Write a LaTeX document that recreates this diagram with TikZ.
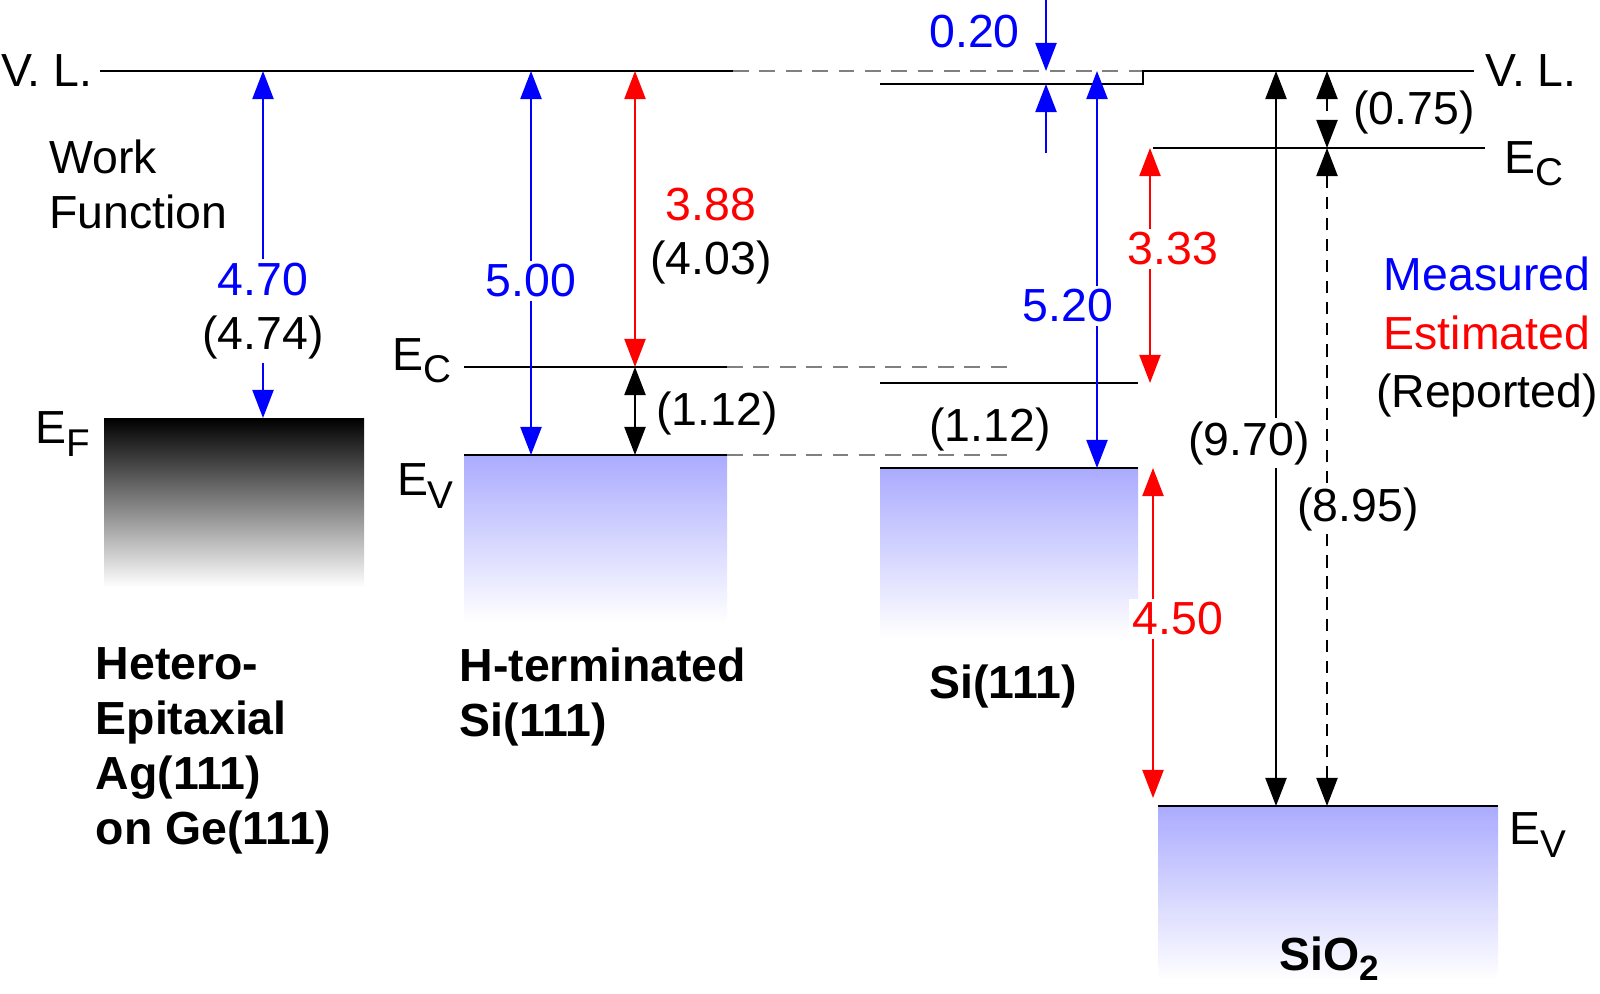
\documentclass[tikz,border=0pt]{standalone}
\usepackage{fontspec}
\setmainfont{Liberation Sans}
\usetikzlibrary{arrows.meta,positioning}

\newcommand{\lev}[2]{#1\raisebox{-0.5ex}{\fontsize{11}{11}\selectfont #2}}

\begin{document}
\begin{tikzpicture}[x=0.01cm,y=-0.01cm,>={Triangle[length=2.8mm,width=2.1mm]},
 txt/.style={font=\fontsize{13.2}{15.4}\selectfont,inner sep=1pt},
 num/.style={txt,fill=white,align=center},
 title/.style={font=\fontsize{13.2}{15.6}\selectfont\bfseries,align=left,inner sep=0pt},
 band/.style={line width=0.8pt},
 guide/.style={gray,line width=0.5pt,dash pattern=on 4.5pt off 3pt},
 gap/.style={<->,line width=0.6pt},
 rep/.style={gap,dash pattern=on 3.5pt off 2.5pt},
 valence/.style={top color=blue!33,bottom color=white},
 metal/.style={top color=black,bottom color=white}]
\useasboundingbox (0,0) rectangle (1600,994);

\coordinate (vlL) at (100,71);
\coordinate (vlM) at (733,71);
\coordinate (vlS) at (1143,71);
\coordinate (vlR) at (1474,71);
\coordinate (siVLa) at (880,84);
\coordinate (siVLb) at (1143,84);
\coordinate (agT) at (104,418);
\coordinate (hcL) at (464,367);
\coordinate (hcR) at (727,367);
\coordinate (hcD) at (1015,367);
\coordinate (hvL) at (464,455);
\coordinate (hvR) at (727,455);
\coordinate (hvD) at (1015,455);
\coordinate (scL) at (880,383);
\coordinate (scR) at (1138,383);
\coordinate (svL) at (880,468);
\coordinate (svR) at (1138,468);
\coordinate (ocL) at (1153,148);
\coordinate (ocR) at (1485,148);
\coordinate (ovL) at (1158,806);
\coordinate (ovR) at (1498,806);

\shade[metal] (agT) rectangle (364,587);
\shade[valence] (hvL) rectangle (727,622);
\shade[valence] (svL) rectangle (1138,638);
\shade[valence] (ovL) rectangle (1498,980);

\draw[band] (vlL) -- (vlM);
\draw[guide] (vlM) -- (vlS);
\draw[band] (siVLa) -- (siVLb) -- (vlS) -- (vlR);
\draw[band] (hcL) -- (hcR);
\draw[guide] (hcR) -- (hcD);
\draw[band] (hvL) -- (hvR);
\draw[guide] (hvR) -- (hvD);
\draw[band] (scL) -- (scR);
\draw[band] (svL) -- (svR);
\draw[band] (ocL) -- (ocR);
\draw[band] (ovL) -- (ovR);

\node[txt,left=1pt of vlL] (vlLtxt) {V. L.};
\node[txt,right=2pt of vlR] (vlRtxt) {V. L.};
\node[txt,align=left,anchor=north west] (wf) at (45,136) {Work\\Function};
\node[txt,anchor=east] (ef) at (94,434) {\lev{E}{F}};
\node[txt,anchor=east] (hec) at (456,361) {\lev{E}{C}};
\node[txt,anchor=east] (hev) at (458,486) {\lev{E}{V}};
\node[txt,anchor=west] (oec) at (1500,164) {\lev{E}{C}};
\node[txt,anchor=west] (oev) at (1505,835) {\lev{E}{V}};

\coordinate (a470t) at (263,71);
\coordinate (a470b) at (263,418);
\coordinate (a500t) at (531,71);
\coordinate (a500b) at (531,455);
\coordinate (a388t) at (635,71);
\coordinate (a388b) at (635,367);
\coordinate (a112t) at (635,367);
\coordinate (a112b) at (635,455);
\coordinate (a020a) at (1046,0);
\coordinate (a020b) at (1046,71);
\coordinate (a020c) at (1046,153);
\coordinate (a020d) at (1046,84);
\coordinate (a520t) at (1097,71);
\coordinate (a520b) at (1097,468);
\coordinate (a333t) at (1150,148);
\coordinate (a333b) at (1150,383);
\coordinate (a450t) at (1153,468);
\coordinate (a450b) at (1153,798);
\coordinate (a970t) at (1276,71);
\coordinate (a970b) at (1276,806);
\coordinate (a075t) at (1327,71);
\coordinate (a075b) at (1327,148);
\coordinate (a895t) at (1327,148);
\coordinate (a895b) at (1327,806);

\draw[gap,blue] (a470t) -- (a470b);
\node[num] (n470) at (263,311) {\textcolor{blue}{4.70}\\(4.74)};
\draw[gap,blue] (a500t) -- (a500b);
\node[num,text=blue] (n500) at (531,281) {5.00};
\draw[gap,red] (a388t) -- (a388b);
\node[txt,align=center] (n388) at (711,236) {\textcolor{red}{3.88}\\(4.03)};
\draw[gap] (a112t) -- (a112b);
\node[txt,anchor=west] (n112) at (652,413) {(1.12)};
\node[txt] (s112) at (990,429) {(1.12)};
\draw[->,blue,line width=0.6pt] (a020a) -- (a020b);
\draw[->,blue,line width=0.6pt] (a020c) -- (a020d);
\node[txt,text=blue,anchor=east] (n020) at (1024,32) {0.20};
\draw[gap,blue] (a520t) -- (a520b);
\node[num,text=blue] (n520) at (1068,306) {5.20};
\draw[gap,red] (a333t) -- (a333b);
\node[num,text=red] (n333) at (1173,249) {3.33};
\draw[gap,red] (a450t) -- (a450b);
\node[num,text=red] (n450) at (1178,619) {4.50};
\draw[gap] (a970t) -- (a970b);
\node[num] (n970) at (1249,443) {(9.70)};
\draw[rep] (a075t) -- (a075b);
\node[txt] (n075) at (1414,112) {(0.75)};
\draw[rep] (a895t) -- (a895b);
\node[num] (n895) at (1358,509) {(8.95)};

\node[txt,align=center,font=\fontsize{13.2}{16.5}\selectfont] (legend) at (1487,337)
 {\textcolor{blue}{Measured}\\\textcolor{red}{Estimated}\\(Reported)};

\node[title,anchor=north west] (ag) at (95,647) {Hetero-\\Epitaxial\\Ag(111)\\on Ge(111)};
\node[title,anchor=north west] (hsi) at (459,647) {H-terminated\\Si(111)};
\node[title] (si) at (1003,686) {Si(111)};
\node[title] (sio2) at (1329,959) {SiO\raisebox{-0.4ex}{\fontsize{10}{10}\selectfont 2}};
\end{tikzpicture}
\end{document}
